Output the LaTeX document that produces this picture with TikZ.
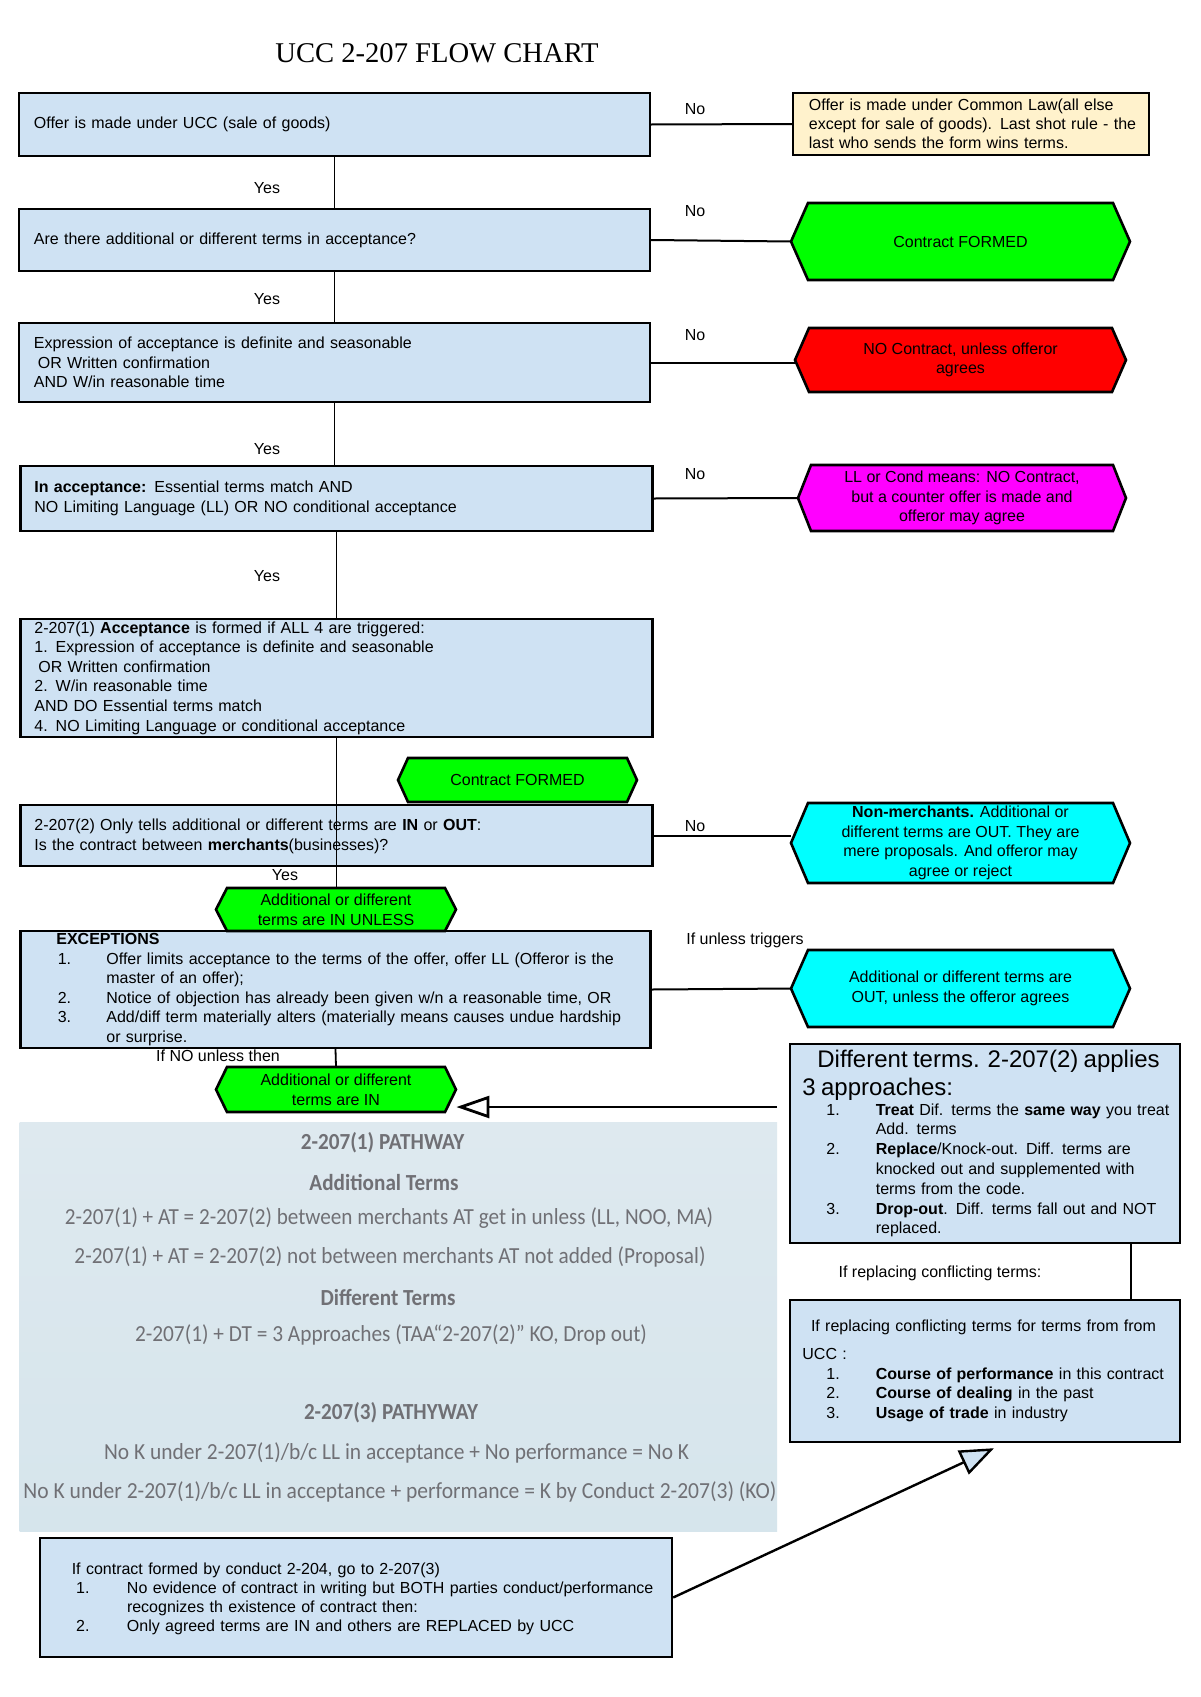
\documentclass[tikz,border=0pt]{standalone}
\usepackage{fontspec}
\usepackage{graphicx}
\setmainfont{Liberation Sans}
\newfontfamily\titlefont{Liberation Serif}
\newfontfamily\slidefont{Carlito}
\usetikzlibrary{arrows.meta}
\definecolor{boxblue}{RGB}{207,226,243}
\definecolor{cream}{RGB}{255,242,204}
\definecolor{hgreen}{RGB}{0,255,0}
\definecolor{hred}{RGB}{255,0,0}
\definecolor{hmag}{RGB}{255,0,255}
\definecolor{hcyan}{RGB}{0,255,255}
\definecolor{slidetop}{RGB}{222,233,239}
\definecolor{slidebot}{RGB}{214,229,236}
\definecolor{slidetext}{RGB}{112,112,117}
\newcommand\sfit[2]{\resizebox{#1}{\height}{#2}}
\tikzset{
  lbox/.style={draw, line width=1.2pt, fill=boxblue, inner sep=0pt},
  txt/.style={font=\fontsize{8}{9.8}\selectfont, inner sep=0pt, anchor=west, text width=340pt, align=left},
  hexframe/.style={draw, line width=1.3pt},
  hextext/.style={font=\fontsize{8}{9.8}\selectfont, inner sep=0pt, align=center},
  conn/.style={line width=1pt},
  trunk/.style={line width=0.9pt},
  lbl/.style={font=\fontsize{8}{9.8}\selectfont, inner sep=0pt},
  slide/.style={font=\slidefont\fontsize{11.5}{13}\selectfont, text=slidetext, inner sep=0pt},
}
\newcommand\myhex[8]{%
  \path[hexframe, fill=#7] (#2+#6,#4) -- (#3-#6,#4) -- (#3,{(#4+#5)/2}) -- (#3-#6,#5) -- (#2+#6,#5) -- (#2,{(#4+#5)/2}) -- cycle;
  \node[hextext, minimum width={(#3-#2)*0.5pt}, minimum height={(#5-#4)*0.5pt}] (#1) at ({(#2+#3)/2},{(#4+#5)/2}) {#8};
}
\begin{document}
\begin{tikzpicture}[x=0.5pt,y=-0.5pt]
\fill[white] (0,0) rectangle (1200,1697);
\useasboundingbox (0,0) rectangle (1200,1697);

% title
\node[font=\titlefont\fontsize{14.3}{16}\selectfont, inner sep=0pt] (title) at (437,53) {UCC 2-207 FLOW CHART};

% left column boxes
\node[lbox, minimum width=315.5pt, minimum height=31.5pt] (B1) at (334.5,124.5) {};
\node[txt] (B1t) at (33.5,124.5) {Offer is made under UCC (sale of goods)};

\node[lbox, minimum width=315.5pt, minimum height=31pt] (B2) at (334.5,240) {};
\node[txt] (B2t) at (33.5,240) {Are there additional or different terms in acceptance?};

\node[lbox, minimum width=315.5pt, minimum height=39.5pt] (B3) at (334.5,362.5) {};
\node[txt] (B3t) at (33.5,362.5) {Expression of acceptance is definite and seasonable\\
\hspace*{2pt}OR Written confirmation\\
AND W/in reasonable time};

\node[lbox, minimum width=316pt, minimum height=32.5pt] (B4) at (336.5,498.5) {};
\node[txt] (B4t) at (34,498.5) {\textbf{In acceptance:} Essential terms match AND\\
NO Limiting Language (LL) OR NO conditional acceptance};

\node[lbox, minimum width=316pt, minimum height=59pt] (B5) at (336.5,678) {};
\node[txt] (B5t) at (34,678) {2-207(1) \textbf{Acceptance} is formed if ALL 4 are triggered:\\
1. Expression of acceptance is definite and seasonable\\
\hspace*{2pt}OR Written confirmation\\
2. W/in reasonable time\\
AND DO Essential terms match\\
4. NO Limiting Language or conditional acceptance};

\node[lbox, minimum width=316pt, minimum height=30.5pt] (B6) at (336.5,835.5) {};
\node[txt] (B6t) at (34,836.5) {2-207(2) Only tells additional or different terms are \textbf{IN} or \textbf{OUT}:\\
Is the contract between \textbf{merchants}(businesses)?};

\node[lbox, minimum width=315pt, minimum height=58.5pt] (EX) at (335.5,989.5) {};
\node[txt] (EXt) at (56,989.5) {\textbf{EXCEPTIONS}\\
\hspace*{0.7pt}\makebox[24.3pt][l]{1.}Offer limits acceptance to the terms of the offer, offer LL (Offeror is the\\
\hspace*{25pt}master of an offer);\\
\hspace*{0.7pt}\makebox[24.3pt][l]{2.}Notice of objection has already been given w/n a reasonable time, OR\\
\hspace*{0.7pt}\makebox[24.3pt][l]{3.}Add/diff term materially alters (materially means causes undue hardship\\
\hspace*{25pt}or surprise.};

% right column
\node[draw, line width=1.2pt, fill=cream, inner sep=0pt, minimum width=178pt, minimum height=31pt] (CL) at (971,124) {};
\node[txt, font=\fontsize{8}{9.6}\selectfont] (CLt) at (808.5,124) {Offer is made under Common Law(all else\\
except for sale of goods). Last shot rule - the\\
last who sends the form wins terms.};

\myhex{H1}{791}{1130}{203}{280}{17}{hgreen}{Contract FORMED}
\myhex{H2}{795}{1126}{328}{392}{14}{hred}{NO Contract, unless offeror\\agrees}
\myhex{H3}{798}{1126}{465}{531}{13}{hmag}{LL or Cond means: NO Contract,\\but a counter offer is made and\\offeror may agree}
\myhex{H4}{398}{637}{758}{802}{10}{hgreen}{Contract FORMED}
\myhex{H5}{791}{1130}{803}{883}{17}{hcyan}{\textbf{Non-merchants.} Additional or\\different terms are OUT. They are\\mere proposals. And offeror may\\agree or reject}
\myhex{H7}{791}{1130}{950}{1027}{17}{hcyan}{Additional or different terms are\\OUT, unless the offeror agrees}
\myhex{H6}{216}{456}{888}{931}{11}{hgreen}{Additional or different\\terms are IN UNLESS}
\myhex{H8}{216}{456}{1067}{1112}{11}{hgreen}{Additional or different\\terms are IN}

\node[lbox, minimum width=195pt, minimum height=99.5pt] (DT) at (985,1143.5) {};
\node[txt] (DTt) at (802,1143.5) {\fontsize{12}{14}\selectfont\hspace*{7.5pt}Different terms. 2-207(2) applies\\
3 approaches:\\
\fontsize{8}{9.9}\selectfont
\hspace*{12pt}\makebox[24.7pt][l]{1.}\textbf{Treat} Dif. terms the \textbf{same way} you treat\\
\hspace*{36.7pt}Add. terms\\
\hspace*{12pt}\makebox[24.7pt][l]{2.}\textbf{Replace}/Knock-out. Diff. terms are\\
\hspace*{36.7pt}knocked out and supplemented with\\
\hspace*{36.7pt}terms from the code.\\
\hspace*{12pt}\makebox[24.7pt][l]{3.}\textbf{Drop-out}. Diff. terms fall out and NOT\\
\hspace*{36.7pt}replaced.};

\node[lbox, minimum width=195pt, minimum height=71pt] (RP) at (985,1371) {};
\node[txt] (RPt) at (802,1371) {\hspace*{4.3pt}If replacing conflicting terms for terms from from\\[4pt]
UCC :\\
\hspace*{12pt}\makebox[24.7pt][l]{1.}\textbf{Course of performance} in this contract\\
\hspace*{12pt}\makebox[24.7pt][l]{2.}\textbf{Course of dealing} in the past\\
\hspace*{12pt}\makebox[24.7pt][l]{3.}\textbf{Usage of trade} in industry};

% slide picture
\node[inner sep=0pt, top color=slidetop, bottom color=slidebot, minimum width=378.75pt, minimum height=204.5pt] (IMG) at (398.25,1326.5) {};
\node[slide] (S1) at (382.6,1143) {\sfit{81.7pt}{\bfseries 2-207(1) PATHWAY}};
\node[slide] (S2) at (384,1182) {\sfit{74.5pt}{\bfseries Additional Terms}};
\node[slide] (S3) at (389,1218) {\sfit{324pt}{2-207(1) + AT = 2-207(2) between merchants AT get in unless (LL, NOO, MA)}};
\node[slide] (S4) at (390,1257) {\sfit{315.5pt}{2-207(1) + AT = 2-207(2) not between merchants AT not added (Proposal)}};
\node[slide] (S5) at (388,1297) {\sfit{67.5pt}{\bfseries Different Terms}};
\node[slide] (S6) at (391,1335) {\sfit{256pt}{2-207(1) + DT = 3 Approaches (TAA“2-207(2)” KO, Drop out)}};
\node[slide] (S7) at (391,1413) {\sfit{87pt}{\bfseries 2-207(3) PATHYWAY}};
\node[slide] (S8) at (396.6,1453) {\sfit{292.5pt}{No K under 2-207(1)/b/c LL in acceptance + No performance = No K}};
\node[slide] (S9) at (400,1492) {\sfit{376.5pt}{No K under 2-207(1)/b/c LL in acceptance + performance = K by Conduct 2-207(3) (KO)}};

% bottom box
\node[lbox, minimum width=316pt, minimum height=59.5pt] (BT) at (356,1597.5) {};
\node[txt, font=\fontsize{8}{9.5}\selectfont] (BTt) at (71.4,1599) {If contract formed by conduct 2-204, go to 2-207(3)\\
\hspace*{2.2pt}\makebox[25.4pt][l]{1.}No evidence of contract in writing but BOTH parties conduct/performance\\
\hspace*{27.6pt}recognizes th existence of contract then:\\
\hspace*{2.2pt}\makebox[25.4pt][l]{2.}Only agreed terms are IN and others are REPLACED by UCC};

% trunk
\draw[trunk] (B1.south) -- (B2.north);
\draw[trunk] (B2.south) -- (B3.north);
\draw[trunk] (B3.south) -- (B3.south |- B4.north);
\draw[trunk] (B4.south) -- (B5.north);
\draw[trunk] (B5.south) -- (B5.south |- H6.north);
\draw[trunk] (EX.south) -- (H8.north);
\draw[trunk] ([xshift=73pt]DT.south) -- ([xshift=73pt]DT.south |- RP.north);

% no-branches
\draw[conn] (B1.east) -- (CL.west);
\draw[conn] (B2.east) -- (H1.west);
\draw[conn] (B3.east) -- (B3.east -| H2.west);
\draw[conn] (B4.east) -- (H3.west);
\draw[conn] (B6.east) -- (B6.east -| H5.west);
\draw[conn] (EX.east) -- (H7.west);

% arrows
\coordinate (Astart) at (777,1107);
\draw[line width=1.4pt, -{Triangle[fill=white, length=16.5pt, width=11pt]}] (Astart) -- (Astart -| H8.east);
\draw[line width=1.2pt, -{Triangle[fill=boxblue, length=17pt, width=13pt]}] (BT.east) -- ([xshift=4.5pt,yshift=-2.5pt]RP.south);

% labels
\node[lbl] (y1) at (267,188) {Yes};
\node[lbl] (y2) at (267,299) {Yes};
\node[lbl] (y3) at (267,449) {Yes};
\node[lbl] (y4) at (267,576) {Yes};
\node[lbl] (y5) at (285,875) {Yes};
\node[lbl] (n1) at (695,109) {No};
\node[lbl] (n2) at (695,211) {No};
\node[lbl] (n3) at (695,335) {No};
\node[lbl] (n4) at (695,474) {No};
\node[lbl] (n5) at (695,826) {No};
\node[lbl] (l1) at (745,940) {If unless triggers};
\node[lbl] (l2) at (218,1056) {If NO unless then};
\node[lbl] (l3) at (940,1273) {If replacing conflicting terms:};
\end{tikzpicture}
\end{document}
